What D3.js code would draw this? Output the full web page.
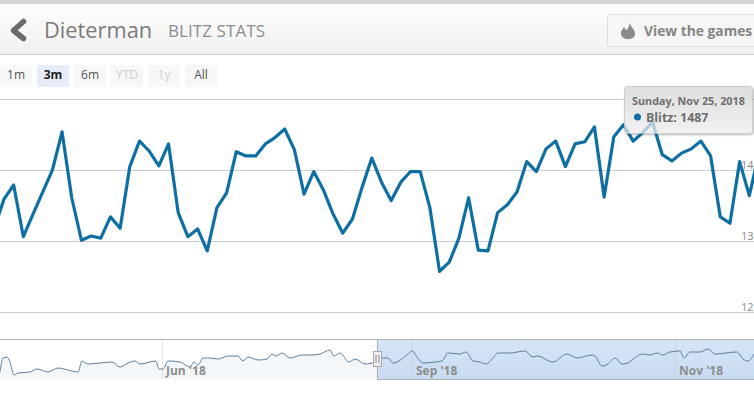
<!DOCTYPE html>
<html><head><meta charset="utf-8">
<script src="https://cdnjs.cloudflare.com/ajax/libs/d3/7.8.5/d3.min.js"></script>
<style>html,body{margin:0;padding:0;background:#fff;overflow:hidden}svg{display:block;font-family:"Open Sans",sans-serif}</style>
</head><body><svg id="c" width="754" height="396"></svg>
<script>
const playerName = "Dieterman";
const subtitle = "BLITZ STATS";
const buttonLabel = "View the games";
const rangeLabels = ["1m","3m","6m","YTD","1y","All"];
const selectedRange = "3m";
const disabledRanges = ["YTD","1y"];
const yTicks = [1200,1300,1400,1500];
const yLabelTicks = [1200,1300,1400];
const blitz = [1319,1360,1380,1307,1339,1370,1401,1455,1362,1302,1308,1305,1335,1319,1406,1442,1428,1407,1438,1341,1307,1318,1287,1348,1369,1427,1421,1421,1438,1447,1459,1430,1367,1399,1373,1339,1312,1332,1377,1418,1384,1358,1384,1399,1399,1348,1258,1271,1305,1362,1288,1287,1341,1352,1370,1413,1399,1431,1442,1406,1438,1441,1462,1363,1448,1465,1442,1454,1469,1423,1414,1425,1431,1442,1421,1335,1326,1413,1365,1425];
const navIndex = [0,0.6,1.4,2,2.8,3.6,6,7.4,9.6,11.6,13.6,15.6,16.4,17.6,20,22.4,24,25.6,27,28,31.2,31.8,32.6,33.6,36,38,38.8,39.6,40.6,42,43.6,45.6,47.6,48.6,49.6,51.6,53.4,54.4,55.2,56.4,58,60.4,62.4,64,66,66.8,68,69.8,71,73,75,76.4,77.6,78.6,81.4,82.4,83.4,84.6,87,88.4,89.6,92,93.2,94.6,96,97.2,98.4,99.6,102,105,106.6,107.4,110.6,113.4,115.4,118.4,119,120.4,121.6,123,124.4,125.6,126.4,128.6,130,131.4,132.6,134,136,136.8,138,140,141.6,143,147.4,148.6,149.6,150.8];
const navRating = [1169,1379,1394,1319,1124,1154,1169,1214,1169,1229,1199,1169,1334,1289,1304,1319,1244,1304,1334,1289,1334,1214,1214,1334,1319,1244,1319,1274,1379,1379,1364,1409,1409,1334,1394,1349,1364,1439,1409,1454,1379,1424,1424,1439,1499,1409,1454,1319,1364,1289,1319,1379,1379,1304,1424,1484,1394,1304,1319,1334,1454,1439,1469,1334,1319,1289,1364,1454,1454,1484,1394,1409,1319,1439,1379,1424,1409,1259,1289,1379,1289,1304,1349,1439,1424,1454,1424,1469,1484,1379,1469,1469,1514,1439,1469,1364,1334,1439];
const navTicks = [{label:"Jun '18",at:32.4},{label:"Sep '18",at:82.4},{label:"Nov '18",at:135}];
const selectionStart = 75.4;
const tooltipDate = "Sunday, Nov 25, 2018";
const tooltipSeries = "Blitz";
const tooltipValue = 1487;
const hoverIndex = 68;

const svg = d3.select("#c");
const defs = svg.append("defs");
const grad = (id,a,b)=>{const g=defs.append("linearGradient").attr("id",id).attr("x1",0).attr("x2",0).attr("y1",0).attr("y2",1);
  g.append("stop").attr("offset",0).attr("stop-color",a);g.append("stop").attr("offset",1).attr("stop-color",b);};
grad("hdr","#fdfdfd","#f1f1f1"); grad("tip","#dedede","#f4f4f4"); grad("sel","#d6e5f8","#c9dbf1");
const f=defs.append("filter").attr("id","sh").attr("x","-10%").attr("y","-10%").attr("width","120%").attr("height","125%");
f.append("feDropShadow").attr("dx",1).attr("dy",1).attr("stdDeviation",1).attr("flood-color","#000").attr("flood-opacity",.3);
const clip=defs.append("clipPath").attr("id","plot");clip.append("rect").attr("x",0).attr("y",90).attr("width",754).attr("height",230);

// header
svg.append("rect").attr("width",754).attr("height",4).attr("fill","#d4d4d4");
svg.append("rect").attr("y",4).attr("width",754).attr("height",50).attr("fill","url(#hdr)");
svg.append("line").attr("x1",0).attr("x2",754).attr("y1",54.5).attr("y2",54.5).attr("stroke","#cfcfcf");
svg.append("path").attr("d","M23.5 21.5 L13.5 30.5 L23.5 38.5").attr("fill","none").attr("stroke","#6b6b6b").attr("stroke-width",5.5).attr("stroke-linecap","round").attr("stroke-linejoin","round");
svg.append("text").attr("x",44).attr("y",38).attr("font-size",21.8).attr("fill","#7a7a7a").text(playerName);
svg.append("text").attr("x",168).attr("y",37).attr("font-size",17).attr("fill","#8c8c8c").attr("textLength",97).text(subtitle);
svg.append("rect").attr("x",607.5).attr("y",14.5).attr("width",160).attr("height",32).attr("rx",2).attr("fill","#f6f6f6").attr("stroke","#e0e0e0");
svg.append("path").attr("d","M630 23 C631 28 635 29 635 34 C635 37 632 39 628 39 C624 39 621 37 621 33 C621 30 623 29 624 27 C625 29 626 30 627 30 C628 28 629 26 630 23Z").attr("fill","#8a8a8a");
svg.append("text").attr("x",644).attr("y",36).attr("font-size",13.8).attr("font-weight",700).attr("fill","#858585").text(buttonLabel);

// range buttons
const rangeX = d3.scalePoint().domain(rangeLabels).range([16,201]);
const rb = svg.append("g").selectAll("g").data(rangeLabels).join("g").attr("transform",d=>`translate(${rangeX(d)},0)`);
rb.append("rect").attr("x",-16).attr("y",65).attr("width",32).attr("height",22)
  .attr("fill",d=>d===selectedRange?"#e6edf8":"#f7f7f7");
rb.append("text").attr("y",79).attr("text-anchor","middle").attr("font-size",12)
  .attr("font-weight",d=>d===selectedRange?700:400)
  .attr("fill",d=>d===selectedRange?"#222":disabledRanges.includes(d)?"#d0d0d0":"#555").text(d=>d);

// main chart
const x = d3.scaleLinear().domain([0,blitz.length-1]).range([-5.7,759]);
const y = d3.scaleLinear().domain([1200,1500]).range([312.5,100]);
svg.append("g").selectAll("line").data(yTicks).join("line").attr("x1",0).attr("x2",754)
  .attr("y1",d=>Math.round(y(d))-.5).attr("y2",d=>Math.round(y(d))-.5).attr("stroke","#cbcbcb");
svg.append("g").selectAll("text").data(yLabelTicks).join("text").attr("x",741).attr("y",d=>y(d)-1.5)
  .attr("font-size",11).attr("fill","#8a8a8a").text(d=>d/100);
svg.append("path").datum(blitz).attr("clip-path","url(#plot)")
  .attr("d",d3.line().x((d,i)=>x(i)).y(d=>y(d)))
  .attr("fill","none").attr("stroke","#0f6fa3").attr("stroke-width",3.2).attr("stroke-linejoin","round");

// navigator
const nx = d3.scaleLinear().domain([0,150.8]).range([0,754]);
const ny = d3.scaleLinear().domain([1064,1649]).range([379,340]);
const selX = nx(selectionStart);
const navPts = navIndex.map((v,i)=>[v,navRating[i]]);
svg.append("path").datum(navPts).attr("d",d3.area().x(d=>nx(d[0])).y0(379).y1(d=>ny(d[1])).curve(d3.curveMonotoneX)).attr("fill","#f4f7fa");
svg.append("rect").attr("x",selX).attr("y",340).attr("width",754-selX).attr("height",39).attr("fill","url(#sel)");
svg.append("g").selectAll("line").data(navTicks).join("line").attr("x1",d=>nx(d.at)+.5).attr("x2",d=>nx(d.at)+.5).attr("y1",340).attr("y2",379)
  .attr("stroke","#bbb").attr("stroke-opacity",.35);
svg.append("path").datum(navPts).attr("d",d3.line().x(d=>nx(d[0])).y(d=>ny(d[1])).curve(d3.curveMonotoneX)).attr("fill","none").attr("stroke","#5f7f9e").attr("stroke-width",1);
svg.append("g").selectAll("text").data(navTicks).join("text").attr("x",d=>nx(d.at)+4).attr("y",375)
  .attr("font-size",12).attr("font-weight",700).attr("fill","#8d8d8d").text(d=>d.label);
svg.append("path").attr("d",`M0 339.5H754M${selX+.5} 339.5V379.5H754`).attr("fill","none").attr("stroke","#b0b0b0");
svg.append("rect").attr("x",selX-3.5).attr("y",351.5).attr("width",8).attr("height",15).attr("fill","#eee").attr("stroke","#aaa");
svg.append("path").attr("d",`M${selX-1} 355V363M${selX+2} 355V363`).attr("stroke","#888");

// tooltip
const tip = svg.append("g");
tip.append("rect").attr("x",624.5).attr("y",86.5).attr("width",128).attr("height",47).attr("rx",3).attr("fill","url(#tip)").attr("fill-opacity",.88).attr("stroke","#ccc").attr("filter","url(#sh)");
tip.append("path").datum(blitz.slice(hoverIndex-3,hoverIndex+2)).attr("clip-path","url(#plot)")
  .attr("d",d3.line().x((d,i)=>x(i+hoverIndex-3)).y(d=>y(d))).attr("fill","none").attr("stroke","#0f6fa3").attr("stroke-opacity",.2).attr("stroke-width",3);
tip.append("text").attr("x",632).attr("y",104.5).attr("font-size",10.8).attr("font-weight",700).attr("fill","#6f6f6f").text(tooltipDate);
tip.append("circle").attr("cx",637.5).attr("cy",117).attr("r",3.5).attr("fill","#0f6fa3");
tip.append("text").attr("x",646).attr("y",121.5).attr("font-size",12.4).attr("font-weight",700).attr("fill","#6f6f6f").text(`${tooltipSeries}: ${tooltipValue}`);
</script></body></html>
